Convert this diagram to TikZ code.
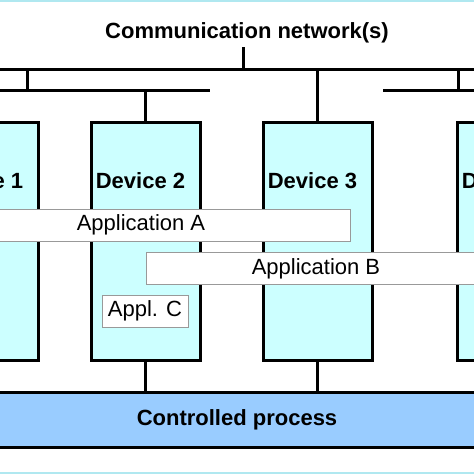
\documentclass[tikz,border=0pt]{standalone}
\usepackage{fontspec}
\setmainfont{Liberation Sans}
\usepackage{xcolor}
\usetikzlibrary{positioning}

\definecolor{devfill}{HTML}{CCFFFF}
\definecolor{procfill}{HTML}{99CCFF}
\definecolor{edgestrip}{HTML}{B0E8F0}

\begin{document}
\begin{tikzpicture}[
  x=1pt, y=-1pt,
  font=\fontsize{22}{26}\selectfont,
  device/.style={draw, line width=3pt, fill=devfill, minimum width=109pt, minimum height=238pt, inner sep=0pt},
  devlabel/.style={font=\fontsize{22}{26}\selectfont\bfseries, inner sep=0pt},
  app/.style={draw=gray!80, line width=1pt, fill=white, minimum height=32pt, inner sep=0pt},
  process/.style={draw, line width=3pt, fill=procfill, minimum height=55pt, inner sep=0pt, font=\fontsize{22}{26}\selectfont\bfseries},
  bus/.style={line width=3pt}
]
\useasboundingbox (0,0) rectangle (474,474);
\clip (0,0) rectangle (474,474);
\fill[edgestrip] (0,0) rectangle (474,2);
\fill[edgestrip] (0,472) rectangle (474,474);

% title and networks
\node[devlabel, anchor=base] (net) at (247,38) {Communication network(s)};
\coordinate (nettop) at (243,47);
\coordinate (busL) at (-10,69);
\coordinate (busR) at (484,69);
\coordinate (subLa) at (-10,90);
\coordinate (subLb) at (210,90);
\coordinate (subRa) at (383,90);
\coordinate (subRb) at (484,90);
\coordinate (tapL) at (27,69);
\coordinate (tapR) at (458,69);

% devices
\node[device] (dev1) at (-16.5,241) {};
\node[device] (dev2) at (145.5,241) {};
\node[device] (dev3) at (317.5,241) {};
\node[device] (dev4) at (511.5,241) {};
\node[devlabel] (lab1) at (-21.5,181) {Device 1};
\node[devlabel] (lab2) at (140.5,181) {Device 2};
\node[devlabel] (lab3) at (312.5,181) {Device 3};
\node[devlabel] (lab4) at (506.5,181) {Device 4};

% applications
\node[app, minimum width=418pt] (appA) at (141,225) {Application A};
\node[app, minimum width=340pt] (appB) at (316,268.5) {Application B};
\node[app, minimum width=86pt] (appC) at (145,311) {Appl. C};

% process
\node[process, minimum width=500pt] (proc) at (237,419.5) {Controlled process};

% connections
\draw[bus] (nettop) -- (nettop|-busL);
\draw[bus] (busL) -- (busR);
\draw[bus] (subLa) -- (subLb);
\draw[bus] (subRa) -- (subRb);
\draw[bus] (tapL) -- (tapL|-subLa);
\draw[bus] (tapR) -- (tapR|-subRa);
\draw[bus] (dev2.north) -- (dev2.north|-subLa);
\draw[bus] (dev3.north) -- (dev3.north|-busL);
\draw[bus] (dev2.south) -- (dev2.south|-proc.north);
\draw[bus] (dev3.south) -- (dev3.south|-proc.north);
\end{tikzpicture}
\end{document}
